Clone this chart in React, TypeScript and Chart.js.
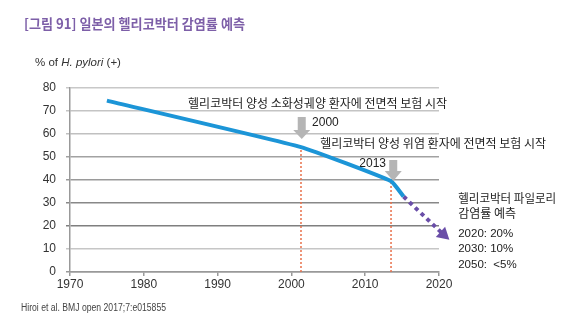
import React, { useEffect, useRef } from "react";
import { Chart, registerables } from "chart.js";

Chart.register(...registerables);

// ---- data ----
const infectionYears = [1975, 2001.3, 2013.5, 2015.2];
const infectionRates = [74.5, 54.3, 39.5, 32.8];
const forecastYears = [2015.2, 2020.6];
const forecastRates = [32.8, 16.3];
const policyYears = [2001.3, 2013.5];
const policyRates = [54.3, 39.5];
const xTicks = [1970, 1980, 1990, 2000, 2010, 2020];
const yTicks = [0, 10, 20, 30, 40, 50, 60, 70, 80];

const titleText = "[그림 91] 일본의 헬리코박터 감염률 예측";
const sourceText = "Hiroi et al. BMJ open 2017;7:e015855";
const policy1Text = "헬리코박터 양성 소화성궤양 환자에 전면적 보험 시작";
const policy2Text = "헬리코박터 양성 위염 환자에 전면적 보험 시작";
const policyYearLabels = ["2000", "2013"];
const forecastLines = ["헬리코박터 파일로리", "감염률 예측"];
const forecastValues = ["2020: 20%", "2030: 10%", "2050:  <5%"];

// gray markers: x year, top value, head-start value, tip value
const grayArrows = [
  { x: 2001.4, top: 67.4, head: 61.7, tip: 57.8 },
  { x: 2013.8, top: 48.7, head: 43.9, tip: 39.6 },
];

const gridColors = ["#999999", "#c6c6c6", "#7f7f7f", "#888888", "#9a9a9a", "#a2a2a2", "#c0c0c0", "#c4c4c4", "#c8c8c8"];

const KR = '"Noto Sans CJK KR", "Noto Sans", sans-serif';
const LAT = '"Liberation Sans", Arial, sans-serif';

const textPlugin = {
  id: "texts",
  afterDraw(chart: any) {
    const ctx = chart.ctx as CanvasRenderingContext2D;
    const xs = chart.scales.x;
    const ys = chart.scales.y;
    const X = (v: number) => xs.getPixelForValue(v);
    const Y = (v: number) => ys.getPixelForValue(v);
    ctx.save();
    ctx.textBaseline = "middle";
    ctx.textAlign = "left";

    // gray arrows
    ctx.fillStyle = "#b5b5b5";
    for (const a of grayArrows) {
      const cx = X(a.x);
      const t = Y(a.top), h = Y(a.head), p = Y(a.tip);
      ctx.fillRect(cx - 4, t, 8, h - t);
      ctx.beginPath();
      ctx.moveTo(cx - 8.5, h);
      ctx.lineTo(cx + 8.5, h);
      ctx.lineTo(cx, p);
      ctx.closePath();
      ctx.fill();
    }

    const txt = (s: string, x: number, y: number, font: string, color: string, maxW?: number) => {
      ctx.font = font;
      ctx.fillStyle = color;
      if (maxW) ctx.fillText(s, x, y, maxW);
      else ctx.fillText(s, x, y);
    };

    // title
    txt(titleText, 24, 24, `bold 14px ${KR}`, "#7d5fa8", 221);

    // y axis title
    const f1 = `11.5px ${LAT}`;
    const f2 = `italic 11.5px ${LAT}`;
    let x0 = 35;
    const yt = 63;
    txt("% of ", x0, yt, f1, "#333");
    x0 += ctx.measureText("% of ").width;
    txt("H. pylori", x0, yt, f2, "#333");
    x0 += ctx.measureText("H. pylori").width;
    txt(" (+)", x0, yt, f1, "#333");

    // annotations
    txt(policy1Text, X(1986.0), Y(73.3), `12px ${KR}`, "#222", 265);
    txt(policyYearLabels[0], X(2002.8), Y(65.1), `12px ${LAT}`, "#222");
    txt(policy2Text, X(2003.9), Y(56.0), `12px ${KR}`, "#222", 229);
    txt(policyYearLabels[1], X(2009.2), Y(47.3), `12px ${LAT}`, "#222");

    const fx = X(2022.6);
    txt(forecastLines[0], fx, Y(31.8), `12px ${KR}`, "#222", 98);
    txt(forecastLines[1], fx, Y(25.6), `12px ${KR}`, "#222");
    txt(forecastValues[0], fx, Y(16.8), `11.5px ${LAT}`, "#222");
    txt(forecastValues[1], fx, Y(10.0), `11.5px ${LAT}`, "#222");
    txt(forecastValues[2], fx, Y(3.3), `11.5px ${LAT}`, "#222");

    // source
    txt(sourceText, 21, 308, `10px ${LAT}`, "#444", 145);
    ctx.restore();
  },
};

export default function App() {
  const ref = useRef<HTMLCanvasElement>(null);
  useEffect(() => {
    if (!ref.current) return;
    const chart = new Chart(ref.current, {
      type: "line",
      data: {
        datasets: [
          {
            data: infectionYears.map((x, i) => ({ x, y: infectionRates[i] })),
            borderColor: "#1c95d7",
            borderWidth: 4,
            pointRadius: 0,
            tension: 0.12,
            borderCapStyle: "butt",
            borderJoinStyle: "round",
          },
          {
            data: forecastYears.map((x, i) => ({ x, y: forecastRates[i] })),
            borderColor: "#6a4ea8",
            backgroundColor: "#6a4ea8",
            borderWidth: 4,
            borderDash: [4, 4],
            pointStyle: "triangle",
            pointRadius: [0, 8],
            pointRotation: 132,
            pointBackgroundColor: "#6a4ea8",
            pointBorderWidth: 0,
            clip: false,
          },
          ...policyYears.map((yr, i) => ({
            data: [
              { x: yr, y: 0 },
              { x: yr, y: policyRates[i] },
            ],
            borderColor: "#e8704a",
            borderWidth: 1.5,
            borderDash: [2, 2],
            pointRadius: 0,
          })),
        ] as any,
      },
      options: {
        animation: false,
        responsive: false,
        events: [],
        layout: { padding: { top: 88, right: 149, left: 0, bottom: 0 } },
        plugins: { legend: { display: false }, tooltip: { enabled: false } },
        scales: {
          x: {
            type: "linear",
            min: 1970,
            max: 2020,
            afterFit: (s: any) => {
              s.height = 55;
            },
            afterBuildTicks: (s: any) => {
              s.ticks = xTicks.map((v) => ({ value: v }));
            },
            ticks: {
              font: { family: LAT, size: 12 },
              color: "#333",
              padding: 1,
              maxRotation: 0,
              callback: (v: any) => String(v),
            },
            grid: { drawOnChartArea: false, drawTicks: true, tickLength: 4, color: "#999", lineWidth: 1.5 },
            border: { display: true, color: "#999", width: 1.5 },
          },
          y: {
            min: 0,
            max: 80,
            afterFit: (s: any) => {
              s.width = 70;
            },
            afterBuildTicks: (s: any) => {
              s.ticks = yTicks.map((v) => ({ value: v }));
            },
            ticks: { font: { family: LAT, size: 12 }, color: "#333", padding: 10, callback: (v: any) => String(v) },
            grid: {
              drawTicks: true,
              tickLength: 4,
              lineWidth: 1.5,
              color: (c: any) => gridColors[c.index] || "#aaa",
            },
            border: { display: true, color: "#999", width: 1.5 },
          },
        },
      } as any,
      plugins: [textPlugin],
    });
    return () => chart.destroy();
  }, []);
  return (
    <div style={{ position: "absolute", left: 0, top: 0, width: 588, height: 327, background: "#fff" }}>
      <canvas ref={ref} width={588} height={327} style={{ display: "block" }} />
    </div>
  );
}
